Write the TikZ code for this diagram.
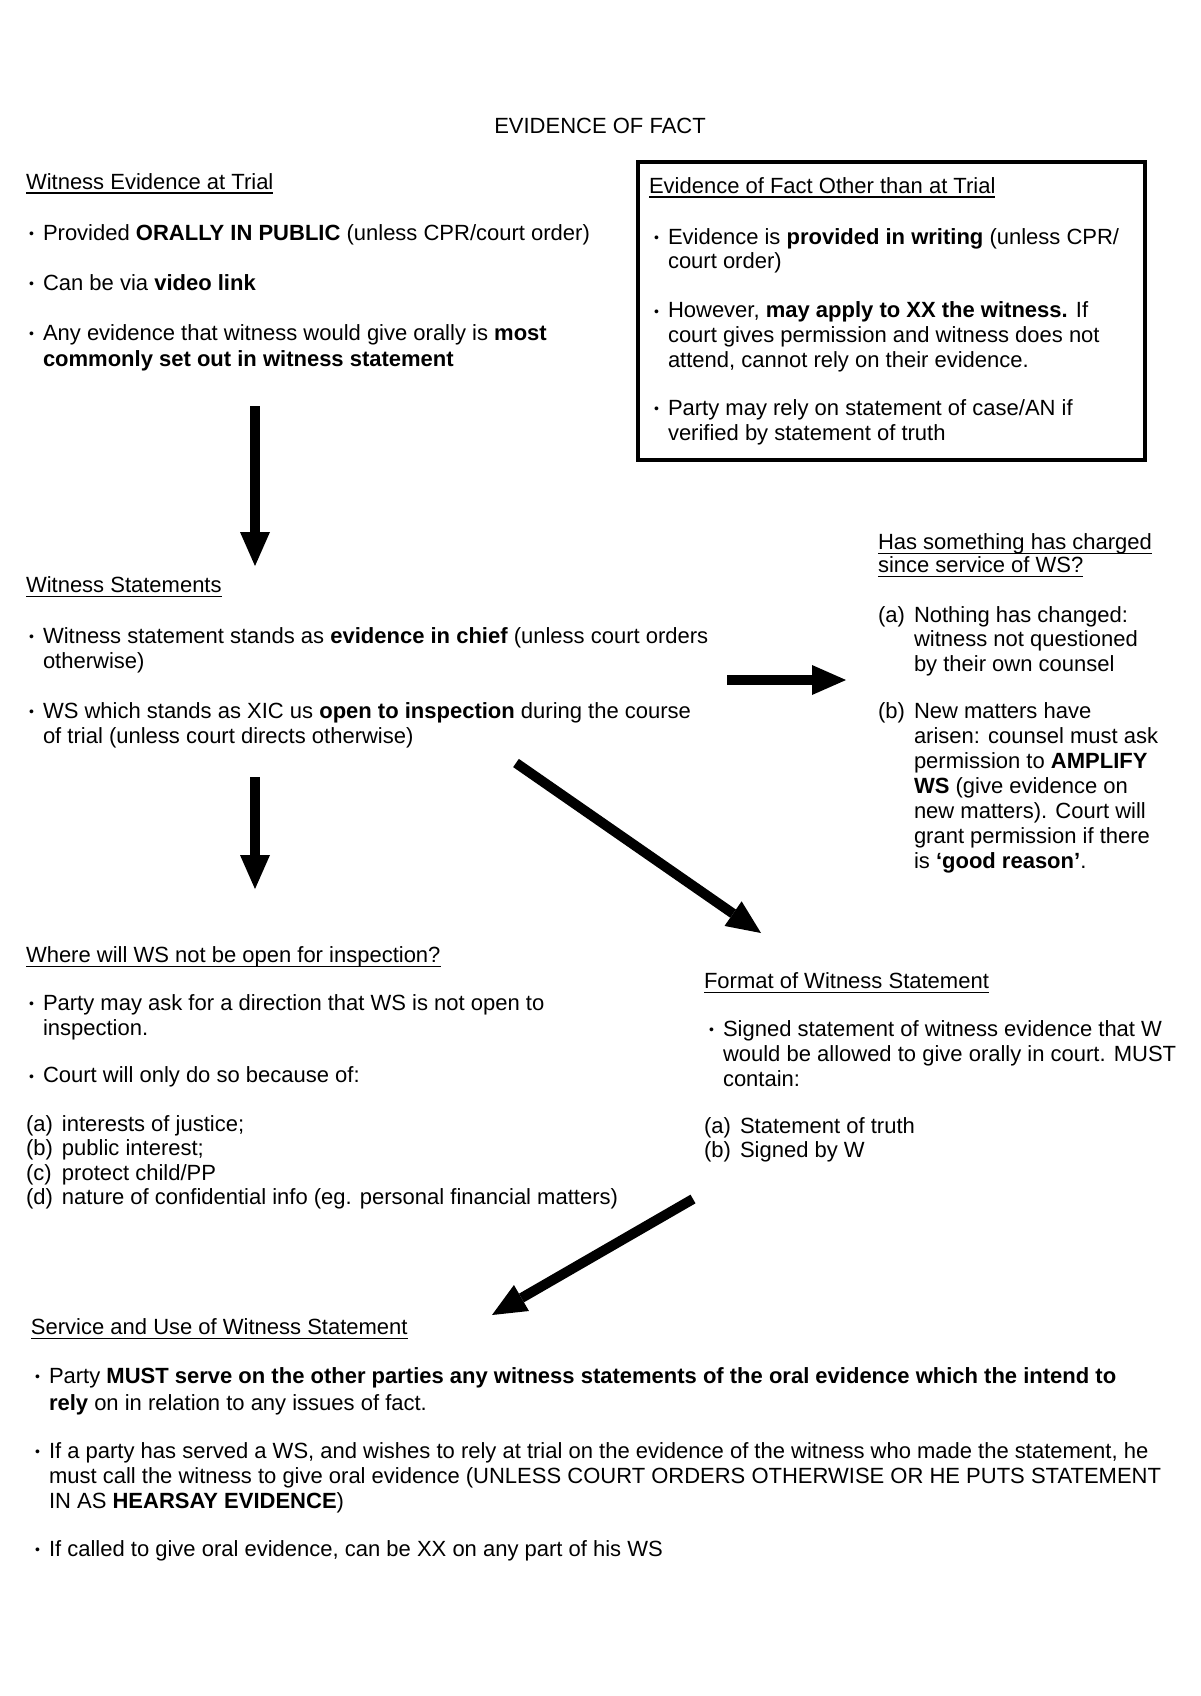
\documentclass[tikz,border=0pt]{standalone}
\usepackage{fontspec}
\setmainfont{Liberation Sans}
\usetikzlibrary{arrows.meta}
\newsavebox\ulbox
\newcommand\ulin[1]{\sbox\ulbox{#1}\rlap{\rule[-2.2pt]{\wd\ulbox}{0.55pt}}\usebox\ulbox}
\newcommand\bul{\llap{\raisebox{0.8pt}{\fontsize{7}{7}\selectfont\textbullet}\hspace{4.5pt}}}
\newcommand\lbl[1]{\llap{\makebox[18pt][l]{#1}}}
\newcommand\tstrut{\rule{0pt}{9pt}}
\begin{document}
\begin{tikzpicture}[x=0.5pt,y=-0.5pt,
  every node/.style={inner sep=0pt,outer sep=0pt},
  para/.style={anchor=north west,align=left,yshift=-1.1pt,font=\fontsize{11}{#1}\selectfont},
  para/.default=12.5,
  bigarrow/.style={line width=5pt,-{Triangle[length=17pt,width=15pt,line width=0pt]}},
  framebox/.style={draw,line width=2.4pt,minimum width=253.5pt,minimum height=149pt}]
\useasboundingbox (0,0) rectangle (1200,1696);

\node[font=\fontsize{11}{13}\selectfont,yshift=-1.1pt] (title) at (600,124) {EVIDENCE OF FACT};

% Witness evidence at trial
\node[para] (h1) at (26,169) {\tstrut\ulin{Witness Evidence at Trial}};
\node[para] (a1) at (43,220) {\tstrut\bul Provided \textbf{ORALLY IN PUBLIC} (unless CPR/court order)};
\node[para] (a2) at (43,270) {\tstrut\bul Can be via \textbf{video link}};
\node[para=13] (a3) at (43,320) {\tstrut\bul Any evidence that witness would give orally is \textbf{most}\\\textbf{commonly set out in witness statement}};

% Box
\node[framebox] (box) at (891.5,311) {};
\node[para] (h2) at (649,173) {\tstrut\ulin{Evidence of Fact Other than at Trial}};
\node[para=12] (b1) at (668,224) {\tstrut\bul Evidence is \textbf{provided in writing} (unless CPR/\\court order)};
\node[para=12.4] (b2) at (668,297.5) {\tstrut\bul However, \textbf{may apply to XX the witness.} If\\court gives permission and witness does not\\attend, cannot rely on their evidence.};
\node[para] (b3) at (668,395) {\tstrut\bul Party may rely on statement of case/AN if\\verified by statement of truth};

% Has something changed
\node[para=11.5] (h3) at (878,529) {\tstrut\ulin{Has something has charged}\\\ulin{since service of WS?}};
\node[para=12.2] (c1) at (914,602) {\tstrut\lbl{(a)}Nothing has changed:\\witness not questioned\\by their own counsel};
\node[para] (c2) at (914,698) {\tstrut\lbl{(b)}New matters have\\arisen: counsel must ask\\permission to \textbf{AMPLIFY}\\\textbf{WS} (give evidence on\\new matters). Court will\\grant permission if there\\is \textbf{‘good reason’}.};

% Witness statements
\node[para] (h4) at (26,572) {\tstrut\ulin{Witness Statements}};
\node[para] (d1) at (43,623) {\tstrut\bul Witness statement stands as \textbf{evidence in chief} (unless court orders\\otherwise)};
\node[para] (d2) at (43,698) {\tstrut\bul WS which stands as XIC us \textbf{open to inspection} during the course\\of trial (unless court directs otherwise)};

% Where will WS not be open
\node[para] (h5) at (26,942) {\tstrut\ulin{Where will WS not be open for inspection?}};
\node[para] (e1) at (43,990) {\tstrut\bul Party may ask for a direction that WS is not open to\\inspection.};
\node[para] (e2) at (43,1062.5) {\tstrut\bul Court will only do so because of:};
\node[para=12.2] (e3) at (62,1111) {\tstrut\lbl{(a)}interests of justice;\\\lbl{(b)}public interest;\\\lbl{(c)}protect child/PP\\\lbl{(d)}nature of confidential info (eg. personal financial matters)};

% Format
\node[para] (h6) at (704,968) {\tstrut\ulin{Format of Witness Statement}};
\node[para] (f1) at (723,1016) {\tstrut\bul Signed statement of witness evidence that W\\would be allowed to give orally in court. MUST\\contain:};
\node[para=12] (f2) at (740,1113) {\tstrut\lbl{(a)}Statement of truth\\\lbl{(b)}Signed by W};

% Service and use
\node[para] (h7) at (31,1314) {\tstrut\ulin{Service and Use of Witness Statement}};
\node[para=13.5] (g1) at (49,1363) {\tstrut\bul Party \textbf{MUST serve on the other parties any witness statements of the oral evidence which the intend to}\\\textbf{rely} on in relation to any issues of fact.};
\node[para] (g2) at (49,1438) {\tstrut\bul If a party has served a WS, and wishes to rely at trial on the evidence of the witness who made the statement, he\\must call the witness to give oral evidence (UNLESS COURT ORDERS OTHERWISE OR HE PUTS STATEMENT\\IN AS \textbf{HEARSAY EVIDENCE})};
\node[para] (g3) at (49,1536) {\tstrut\bul If called to give oral evidence, can be XX on any part of his WS};

% Arrows
\coordinate (p1s) at (255,406);  \coordinate (p1e) at (255,566);
\coordinate (p2s) at (255,777);  \coordinate (p2e) at (255,889);
\coordinate (p3s) at (516,763);  \coordinate (p3e) at (761,933);
\coordinate (p4s) at (727,680);  \coordinate (p4e) at (846,680);
\coordinate (p5s) at (693,1199); \coordinate (p5e) at (492,1315);
\draw[bigarrow] (p1s) -- (p1e);
\draw[bigarrow] (p2s) -- (p2e);
\draw[bigarrow] (p3s) -- (p3e);
\draw[bigarrow] (p4s) -- (p4e);
\draw[bigarrow] (p5s) -- (p5e);
\end{tikzpicture}
\end{document}
